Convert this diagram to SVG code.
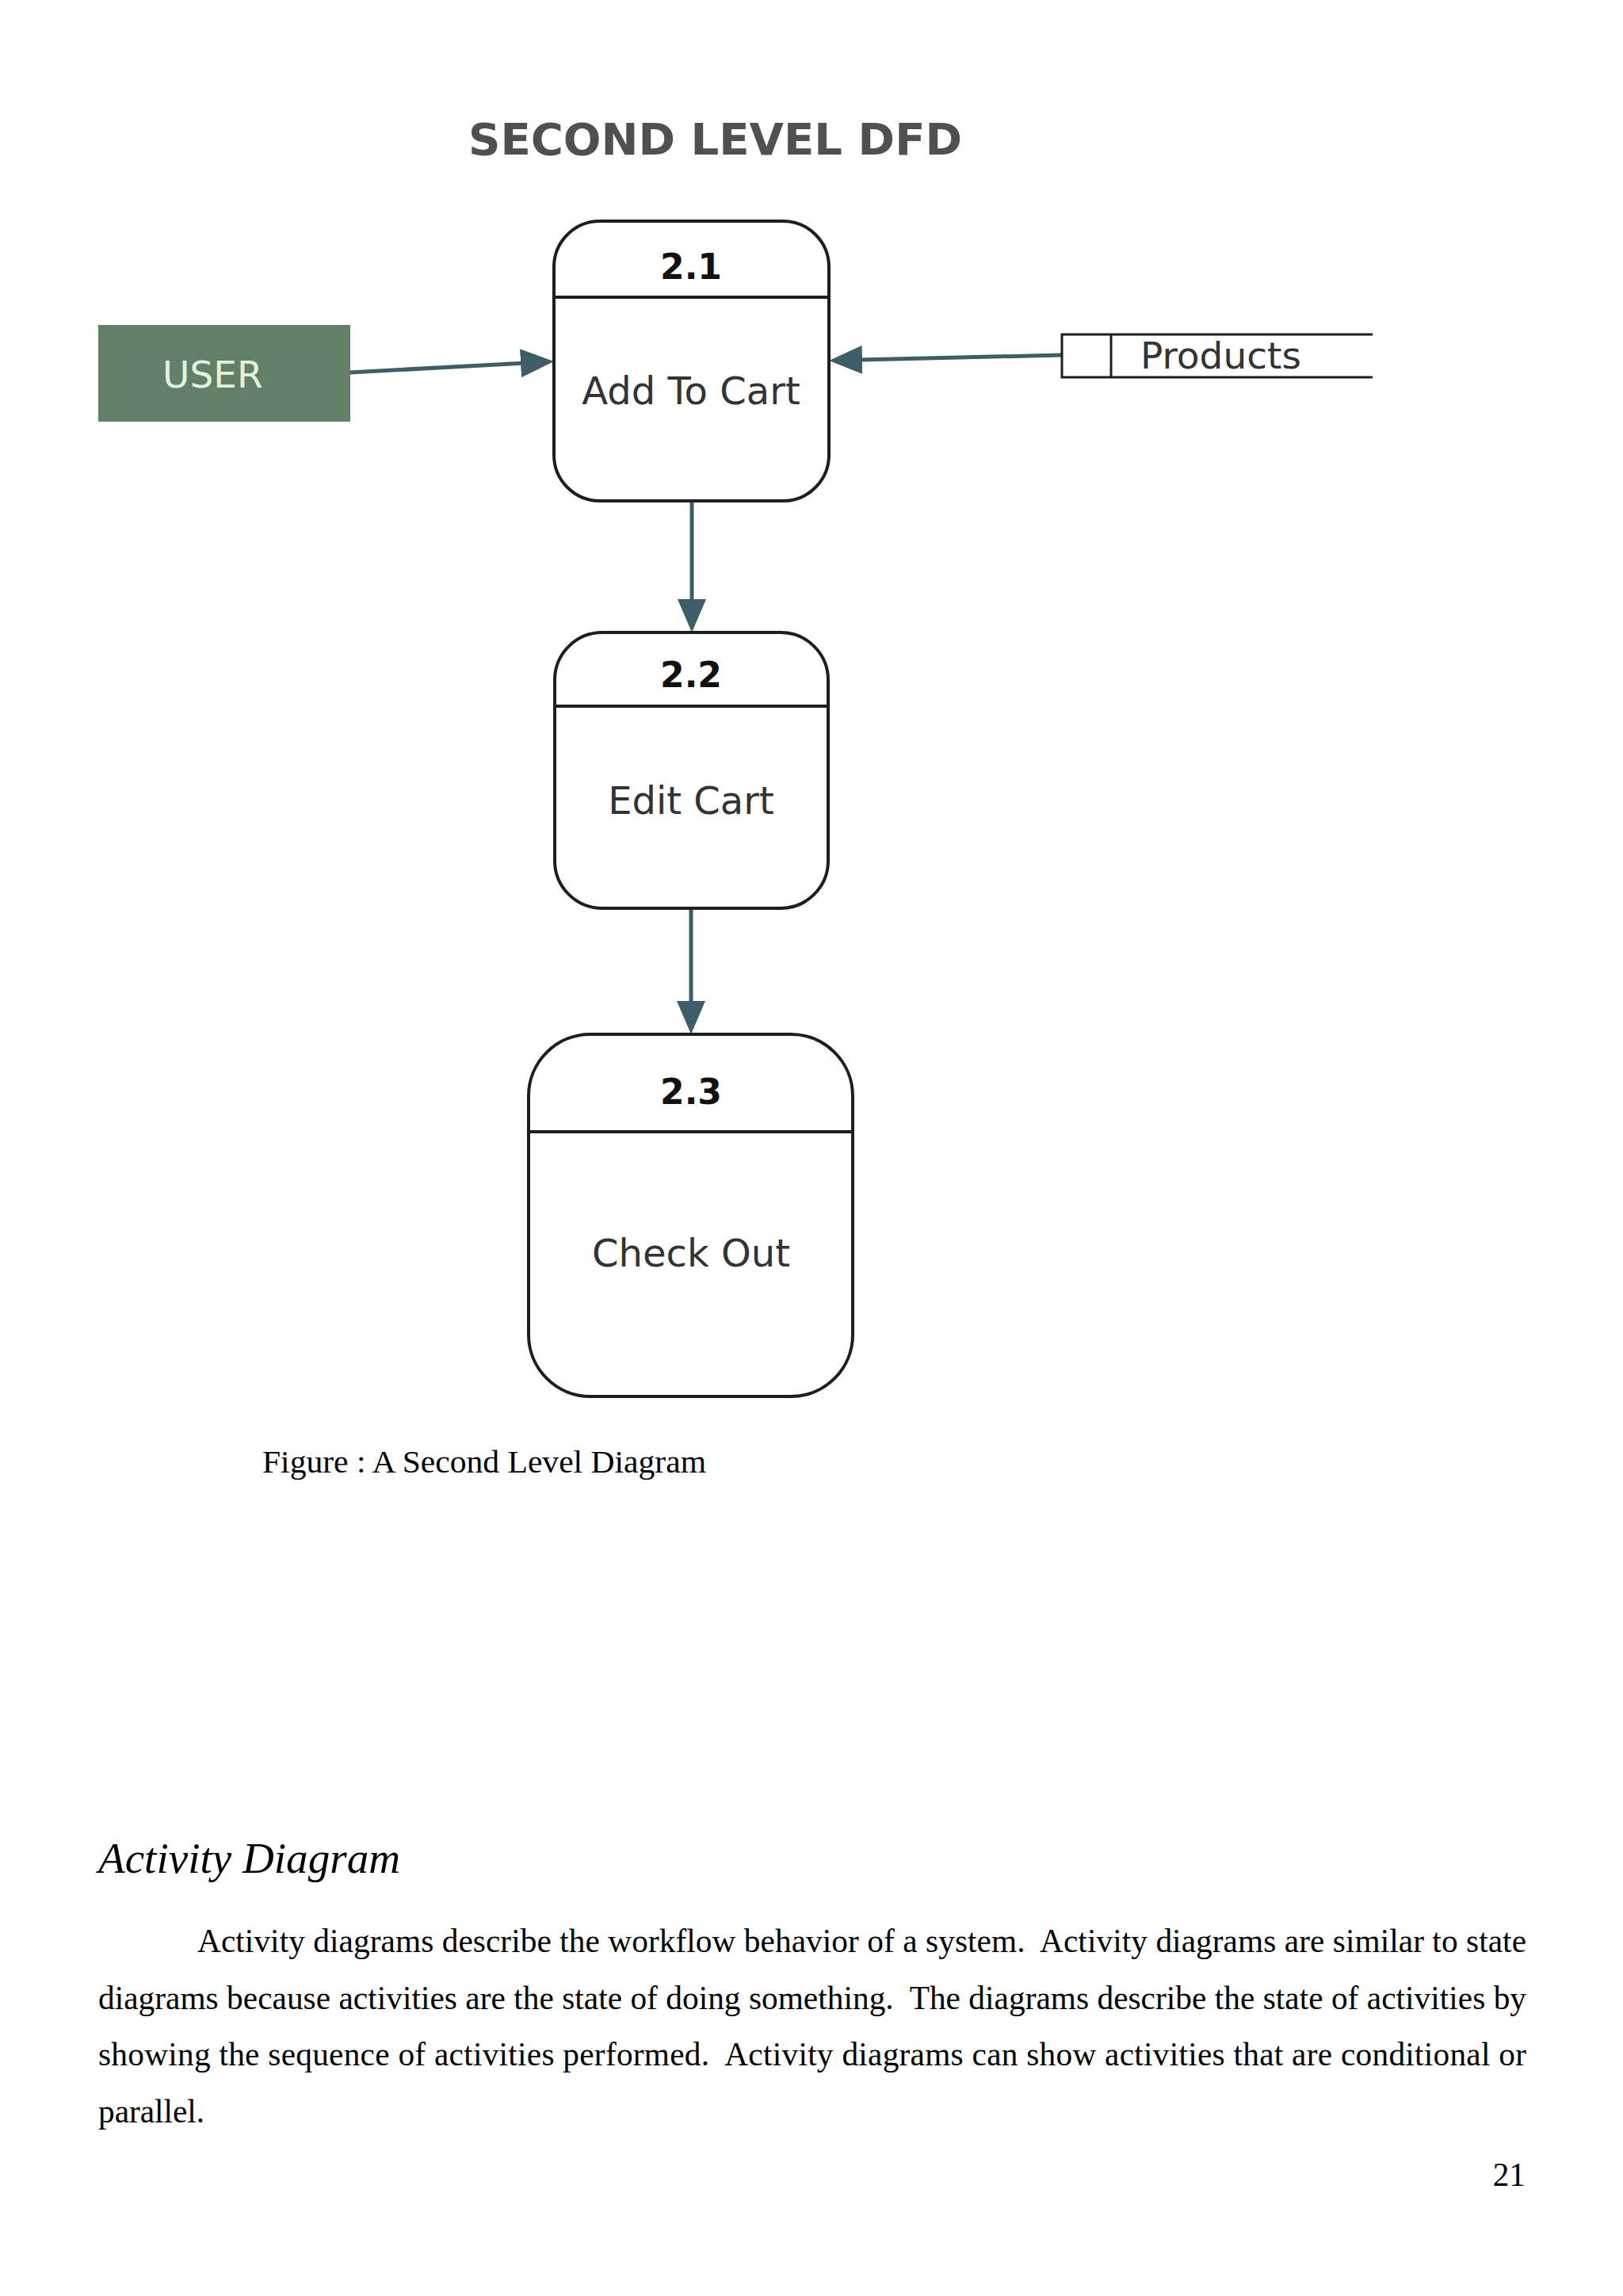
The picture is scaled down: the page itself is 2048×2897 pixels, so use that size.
<svg xmlns="http://www.w3.org/2000/svg" width="2048" height="2897" viewBox="0 0 2048 2897">
<style>
.bg{fill:#ffffff}
.proc{fill:#ffffff;stroke:#1e1e1e;stroke-width:4}
.div{stroke:#1e1e1e;stroke-width:4}
.num{font-family:"DejaVu Sans",Verdana,sans-serif;font-weight:bold;font-size:44px;fill:#111111;text-anchor:middle}
.lbl{font-family:"DejaVu Sans",Verdana,sans-serif;font-size:48px;fill:#333333;text-anchor:middle}
.title{font-family:"DejaVu Sans",Verdana,sans-serif;font-weight:bold;font-size:56px;fill:#505050}
.ent{fill:#637f68}
.entt{font-family:"DejaVu Sans",Verdana,sans-serif;font-size:47px;fill:#e2f3da}
.store{fill:none;stroke:#1e1e1e;stroke-width:3}
.storet{font-family:"DejaVu Sans",Verdana,sans-serif;font-size:47px;fill:#333333}
.flow{fill:none;stroke:#3d5e66;stroke-width:5}
.serif{font-family:"Liberation Serif","Times New Roman",serif;fill:#000000}
.body{font-size:41.3px}
</style>
<defs>
<marker id="ah" viewBox="0 0 42 36" refX="2" refY="18" markerWidth="42" markerHeight="36" markerUnits="userSpaceOnUse" orient="auto">
<path d="M0,0 L42,18 L0,36 Z" fill="#3d5e66"/>
</marker>
</defs>
<rect class="bg" x="0" y="0" width="2048" height="2897"/>

<text class="title" x="591" y="195" textLength="623" lengthAdjust="spacingAndGlyphs">SECOND LEVEL DFD</text>

<g id="connectors">
<line class="flow" x1="441" y1="470" x2="659" y2="458.2" marker-end="url(#ah)"/>
<line class="flow" x1="1340" y1="448" x2="1086" y2="454" marker-end="url(#ah)"/>
<line class="flow" x1="873" y1="632" x2="873" y2="758" marker-end="url(#ah)"/>
<line class="flow" x1="872" y1="1146" x2="872" y2="1265" marker-end="url(#ah)"/>
</g>

<g id="user">
<rect class="ent" x="124" y="410" width="318" height="122"/>
<text class="entt" x="205" y="489">USER</text>
</g>

<g id="products">
<path class="store" d="M1732,422 H1340 V476 H1732 M1402,422 V476"/>
<text class="storet" x="1439" y="465">Products</text>
</g>

<g id="p2_1">
<rect class="proc" x="699" y="279" width="347" height="353" rx="58" ry="58"/>
<line class="div" x1="699" y1="375" x2="1046" y2="375"/>
<text class="num" x="872" y="352">2.1</text>
<text class="lbl" x="872" y="510">Add To Cart</text>
</g>

<g id="p2_2">
<rect class="proc" x="700" y="798" width="345" height="348" rx="60" ry="60"/>
<line class="div" x1="700" y1="891" x2="1045" y2="891"/>
<text class="num" x="872" y="867">2.2</text>
<text class="lbl" x="872" y="1027">Edit Cart</text>
</g>

<g id="p2_3">
<rect class="proc" x="667" y="1305" width="409" height="457" rx="78" ry="78"/>
<line class="div" x1="667" y1="1428" x2="1076" y2="1428"/>
<text class="num" x="872" y="1393">2.3</text>
<text class="lbl" x="872" y="1598">Check Out</text>
</g>

<text class="serif" x="331" y="1858" font-size="41px" textLength="560" lengthAdjust="spacingAndGlyphs">Figure : A Second Level Diagram</text>

<text class="serif" x="124" y="2363" font-size="55px" font-style="italic" textLength="381" lengthAdjust="spacingAndGlyphs">Activity Diagram</text>

<text class="serif body" x="249" y="2463" xml:space="preserve" textLength="1677" lengthAdjust="spacing">Activity diagrams describe the workflow behavior of a system.  Activity diagrams are similar to state</text>
<text class="serif body" x="124" y="2534.5" xml:space="preserve" textLength="1802" lengthAdjust="spacing">diagrams because activities are the state of doing something.  The diagrams describe the state of activities by</text>
<text class="serif body" x="124" y="2606" xml:space="preserve" textLength="1802" lengthAdjust="spacing">showing the sequence of activities performed.  Activity diagrams can show activities that are conditional or</text>
<text class="serif body" x="124" y="2677.5">parallel.</text>

<text class="serif body" x="1925" y="2758" text-anchor="end">21</text>
</svg>
